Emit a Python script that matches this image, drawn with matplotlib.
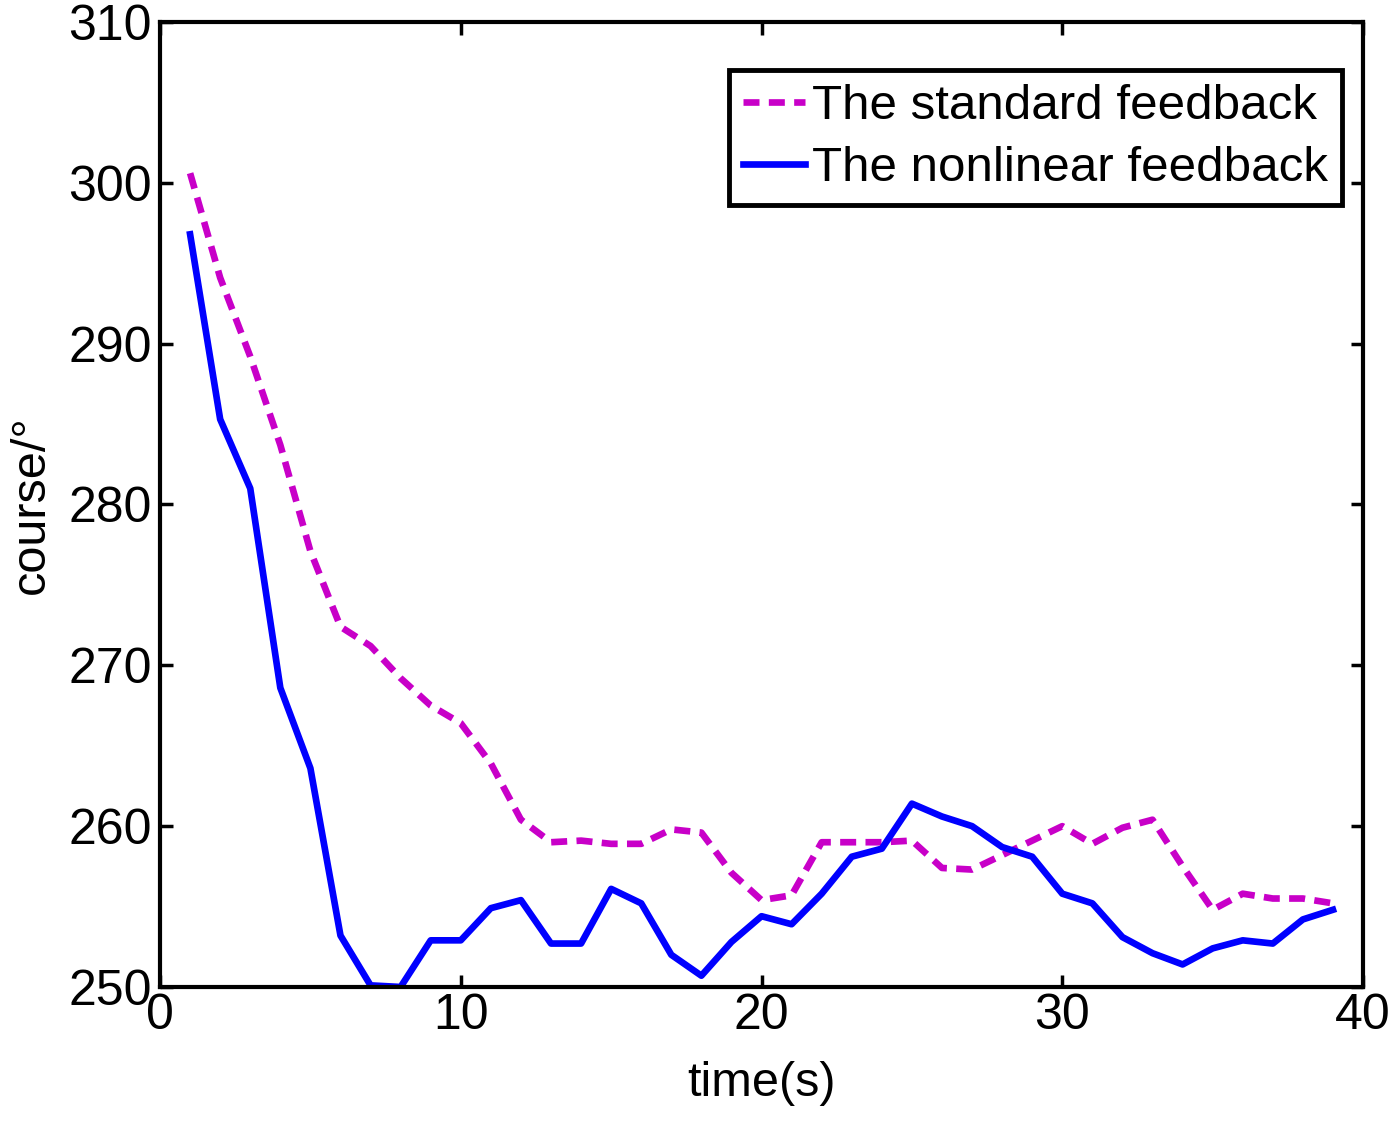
import matplotlib
matplotlib.use('Agg')
import matplotlib.pyplot as plt

# sample times (s)
time_s = list(range(1, 40))

# course (deg)
course_standard = [300.6, 294.1, 289.2, 283.7, 277.1, 272.4, 271.2, 269.2, 267.5, 266.4,
                   263.9, 260.4, 259.0, 259.1, 258.9, 258.9, 259.8, 259.6, 257.1, 255.4,
                   255.7, 259.0, 259.0, 259.0, 259.1, 257.4, 257.3, 258.2, 259.1, 260.0,
                   258.9, 259.9, 260.4, 257.5, 254.8, 255.8, 255.5, 255.5, 255.2]
course_nonlinear = [296.8, 285.3, 281.0, 268.6, 263.6, 253.2, 250.1, 250.0, 252.9, 252.9,
                    254.9, 255.4, 252.7, 252.7, 256.1, 255.2, 252.0, 250.7, 252.8, 254.4,
                    253.9, 255.8, 258.1, 258.6, 261.4, 260.6, 260.0, 258.7, 258.1, 255.8,
                    255.2, 253.1, 252.1, 251.4, 252.4, 252.9, 252.7, 254.2, 254.8]

x_ticks = [0, 10, 20, 30, 40]
y_ticks = [250, 260, 270, 280, 290, 300, 310]

plt.rcParams['font.family'] = ['Liberation Sans', 'DejaVu Sans']

fig = plt.figure(figsize=(14, 11.29), dpi=100)
ax = fig.add_axes([0.1143, 0.1258, 0.8593, 0.8547])

ax.plot(time_s, course_standard, color='#c800c8', lw=4.8, linestyle=(0, (2.4, 1.4)),
        label='The standard feedback')
ax.plot(time_s, course_nonlinear, color='#0000ff', lw=4.8, label='The nonlinear feedback')

ax.set_xlim(0, 40)
ax.set_ylim(250, 310)
ax.set_xticks(x_ticks)
ax.set_yticks(y_ticks)
ax.tick_params(direction='in', length=9, width=2.5, top=True, right=True,
               labelsize=36, pad=4)
ax.tick_params(axis='y', pad=6)
for sp in ax.spines.values():
    sp.set_linewidth(3)

ax.set_xlabel('time(s)', fontsize=35, labelpad=16)
ax.set_ylabel('course/°', fontsize=35, labelpad=10)

leg = ax.legend(loc='upper right', bbox_to_anchor=(0.9825, 0.950), borderaxespad=0,
                fontsize=35.5, handlelength=1.25, handletextpad=0.15, labelspacing=0.35,
                borderpad=0.28, fancybox=False, framealpha=1)
leg.get_frame().set_edgecolor('black')
leg.get_frame().set_linewidth(3.5)

fig.savefig('out.png', dpi=100)
